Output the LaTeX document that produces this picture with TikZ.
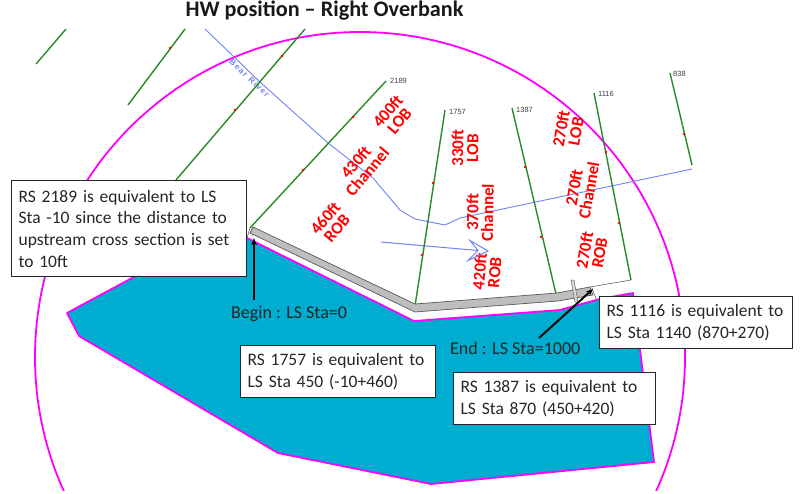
\documentclass[tikz,border=0pt]{standalone}
\usepackage{fontspec}
\setmainfont{Carlito}
\newfontfamily\labfont{Liberation Sans}
\definecolor{pool}{HTML}{00ACCF}
\definecolor{mag}{HTML}{FF00FF}
\definecolor{xs}{HTML}{2A8A2A}
\definecolor{riv}{HTML}{7082F5}
\definecolor{lev}{HTML}{BEBEBE}
\definecolor{txt}{HTML}{262626}
\tikzset{
  xsline/.style={draw=xs,line width=1.4pt},
  dotm/.style={circle,fill=red,inner sep=0pt,minimum size=2.8pt},
  rslab/.style={font=\labfont\fontsize{7.5}{8}\selectfont,text=black!75,inner sep=0pt,anchor=west},
  len/.style={font=\bfseries\fontsize{17}{15}\selectfont,text=red,align=center,inner sep=0pt},
  infobox/.style={draw=black!85,line width=1.2pt,fill=white,font=\fontsize{17.5}{21.7}\selectfont,text=txt,align=left,anchor=north west,inner xsep=7pt,inner ysep=0pt},
  plain/.style={font=\fontsize{18}{20}\selectfont,text=txt,inner sep=0pt,anchor=west},
  callout/.style={draw=black,line width=1.9pt,-{Stealth[length=7pt,width=5.5pt]}},
  thin grey/.style={draw=black!60,line width=.6pt}
}
\usetikzlibrary{arrows.meta}
\begin{document}
\begin{tikzpicture}[x=1pt,y=-1pt]
\useasboundingbox (0,0) rectangle (800,493);
\fill[white] (0,0) rectangle (800,493);
% lake
\draw[mag,line width=1.8pt,fill=pool,line join=round] (67,313) -- (79,336) -- (278,453) -- (431,484) -- (654,462) -- (633,293) -- (600,299) -- (578,305) -- (560,310) -- (414,321) -- (247,238) -- (225,228) -- cycle;
% big circle
\begin{scope}
\clip (0,29) rectangle (800,490);
\draw[mag,line width=1.8pt] (360,357) circle[radius=325];
\draw[mag,line width=2.8pt] (360,357) ++(145:325) arc[start angle=145,end angle=35,radius=325];
\end{scope}
% river
\draw[riv,line width=.9pt] (205,29) -- (260,82) -- (328,143) -- (373,178) -- (400,210) -- (415,219) -- (445,225) -- (460,218) -- (692,169);
\node[font=\labfont\bfseries\fontsize{8}{8}\selectfont,text=riv,rotate=-44,inner sep=0pt] (rivername) at (249.5,78) {B\,e\,a\,r\ \ R\,i\,v\,e\,r};
% length labels
\node[len,rotate=50] (a1) at (393.5,116) {400ft\\LOB};
\node[len,rotate=50] (a2) at (361.5,167) {430ft\\Channel};
\node[len,rotate=50] (a3) at (331,223) {460ft\\ROB};
\node[len,rotate=89] (b1) at (465,148) {330ft\\LOB};
\node[len,rotate=89] (b2) at (480,212.5) {370ft\\Channel};
\node[len,rotate=85] (b3) at (487,272) {420ft\\ROB};
\node[len,rotate=80] (c1) at (568.5,130) {270ft\\LOB};
\node[len,rotate=80] (c2) at (581.5,189) {270ft\\Channel};
\node[len,rotate=80] (c3) at (592,251.5) {270ft\\ROB};
% flow arrow
\coordinate (flowa) at (381,242);
\coordinate (flowb) at (478,250.5);
\draw[riv,line width=1pt] (flowa) -- (flowb);
\draw[riv,line width=1pt,line join=miter] (470,240.5) -- (488,251) -- (468,260.5) -- (478,250.5) -- cycle;
% cross sections
\draw[xsline] (36,64) -- (66,29);
\draw[xsline] (128,105) -- (185,29);
\draw[xsline] (176,180) -- (305,29);
\draw[xsline] (250,228) -- (386,81);
\draw[xsline] (415,306) -- (445,110);
\draw[xsline] (512,108) -- (556,294);
\draw[xsline] (594,93) -- (631,280);
\draw[xsline] (670,73) -- (692,165);
\foreach \p/\q in {170/48,282/56,235/110,353/117,303/170,433/183,422/255,525/167,541/237,606/152,619/223,684/134}
  \node[dotm] (dot\p) at (\p,\q) {};
\node[rslab] (r2189) at (390,81) {2189};
\node[rslab] (r1757) at (449,112) {1757};
\node[rslab] (r1387) at (516,110) {1387};
\node[rslab] (r1116) at (598,94) {1116};
\node[rslab] (r838) at (673,74) {838};
% levee
\draw[thin grey] (250,228) -- (247,238);
\draw[thin grey] (253,229) -- (252,236);
\draw[thin grey] (590,287) -- (631,280);
\draw[thin grey] (592,288) -- (597,301);
\draw[draw=black!65,fill=lev,line width=.7pt,line join=round] (253,227) -- (415,304) -- (557,293) -- (590,287) -- (593,295) -- (558,301) -- (415,312) -- (250,233) -- cycle;
\draw[draw=black!60,fill=white!85!black,line width=.5pt] (571,280) -- (574,280) -- (578,302) -- (575,302) -- cycle;
% callouts
\node[plain] (beginlab) at (231,314) {Begin : LS Sta=0};
\node[plain] (endlab) at (450,348) {End : LS Sta=1000};
\coordinate (beginfrom) at (254,300);
\coordinate (beginto) at (254,238);
\coordinate (endfrom) at (539,338);
\coordinate (endto) at (593,289);
\draw[callout] (beginfrom) -- (beginto);
\draw[callout] (endfrom) -- (endto);
% boxes
\node[infobox,text width=221pt,minimum height=96pt] (box2189) at (11,180) {RS 2189 is equivalent to LS\\Sta -10 since the distance to\\upstream cross section is set\\to 10ft};
\node[infobox,text width=181pt,minimum height=52pt] (box1757) at (240,345) {RS 1757 is equivalent to\\LS Sta 450 (-10+460)};
\node[infobox,text width=188pt,minimum height=52pt] (box1387) at (453,372) {RS 1387 is equivalent to\\LS Sta 870 (450+420)};
\node[infobox,text width=179pt,minimum height=52pt] (box1116) at (599,296) {RS 1116 is equivalent to\\LS Sta 1140 (870+270)};
% title
\node[font=\bfseries\fontsize{22.2}{24}\selectfont,text=black!90,inner sep=0pt] (title) at (324.5,11) {HW position – Right Overbank};
\end{tikzpicture}
\end{document}
